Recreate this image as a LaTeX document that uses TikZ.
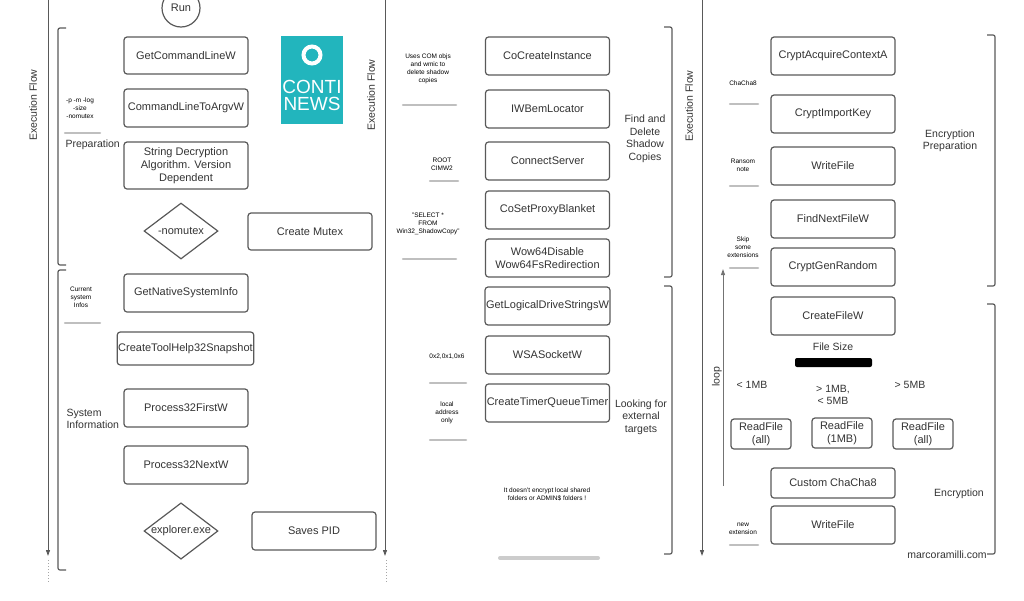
\documentclass[tikz,border=0pt]{standalone}
\usepackage{fontspec}
\setmainfont{Liberation Sans}
\usetikzlibrary{shapes.geometric,arrows.meta}
\begin{document}
\begin{tikzpicture}[x=1pt,y=-1pt,
  box/.style={draw=black!65,line width=1.2pt,rounded corners=3pt,align=center,font=\fontsize{11}{13}\selectfont,text=black!80,inner sep=1pt},
  dia/.style={diamond,draw=black!65,line width=1.2pt,align=center,font=\fontsize{11}{13}\selectfont,text=black!80,inner sep=0pt,minimum width=74pt,minimum height=56pt,aspect=1.3},
  note/.style={align=center,font=\fontsize{6.5}{8}\selectfont,text=black},
  lab/.style={align=center,font=\fontsize{10.5}{12.5}\selectfont,text=black!80},
  sh/.style={draw=black!25,line width=2.5pt,line cap=round},
  flow/.style={draw=black!65,line width=1pt,-{Triangle[length=6pt,width=4pt]}},
  brk/.style={draw=black!65,line width=1.2pt,rounded corners=2pt}]
\useasboundingbox (0,0) rectangle (1024,600);
% ---------- column 1 ----------
\coordinate (f1a) at (48,0); \coordinate (f1b) at (48,556);
\draw[flow] (f1a) -- (f1b);
\draw[black!35,dotted,line width=1pt] (48,560) -- (48,582);
\node[lab,rotate=90] (ef1) at (33,105) {Execution Flow};
\node[circle,draw=black!65,line width=1.2pt,minimum size=38pt,inner sep=0pt,font=\fontsize{11}{13}\selectfont,text=black!80] (run) at (181,8) {Run};
\draw[brk] (66,28) -- (58,28) -- (58,265) -- (66,265);
\draw[brk] (66,270) -- (58,270) -- (58,570) -- (66,570);
\node[box,minimum width=124pt,minimum height=37pt] (gcl) at (186,55.5) {GetCommandLineW};
\node[box,minimum width=124pt,minimum height=38pt] (cla) at (186,108) {CommandLineToArgvW};
\node[box,minimum width=124pt,minimum height=47pt] (sda) at (186,165.5) {String Decryption\\Algorithm. Version\\Dependent};
\node[dia] (nom) at (181,231) {-nomutex};
\node[box,minimum width=124pt,minimum height=37pt] (cmu) at (310,231.5) {Create Mutex};
\node[box,minimum width=124pt,minimum height=38pt] (gns) at (186,293) {GetNativeSystemInfo};
\node[box,minimum width=133pt,minimum height=33pt] (cth) at (185.5,348.5) {CreateToolHelp32Snapshot};
\node[box,minimum width=124pt,minimum height=38pt] (p1) at (186,408) {Process32FirstW};
\node[box,minimum width=124pt,minimum height=38pt] (p2) at (186,465) {Process32NextW};
\node[dia] (exp) at (181,531) {explorer.exe};
\node[box,minimum width=124pt,minimum height=38pt] (pid) at (314,531) {Saves PID};
\fill[fill={rgb,255:red,34;green,181;blue,189}] (281,36) rectangle (343,124);
\node[circle,draw=white,line width=4pt,minimum size=17pt,inner sep=0pt] (logo) at (312,55) {};
\node[font=\fontsize{19}{19}\selectfont,text=white,align=center] (conti) at (312,95) {CONTI\\[-2pt]NEWS};
\node[note] (n1) at (80,108) {-p -m -log\\-size\\-nomutex};
\draw[sh] (65,133) -- (100,133);
\node[lab,anchor=west] (prep) at (62,145) {Preparation};
\node[note] (n2) at (81,297) {Current\\system\\Infos};
\draw[sh] (65,323) -- (100,323);
\node[lab,anchor=west,align=left] (sysi) at (63,419) {System\\Information};
% ---------- column 2 ----------
\coordinate (f2a) at (385,0); \coordinate (f2b) at (385,556);
\draw[flow] (f2a) -- (f2b);
\draw[black!35,dotted,line width=1pt] (386,560) -- (386,582);
\node[lab,rotate=90] (ef2) at (371,95) {Execution Flow};
\node[box,minimum width=124pt,minimum height=38pt] (cci) at (547.5,56) {CoCreateInstance};
\node[box,minimum width=124pt,minimum height=38pt] (iwb) at (547.5,109) {IWBemLocator};
\node[box,minimum width=124pt,minimum height=38pt] (cs) at (547.5,161) {ConnectServer};
\node[box,minimum width=124pt,minimum height=38pt] (csp) at (547.5,210) {CoSetProxyBlanket};
\node[box,minimum width=124pt,minimum height=38pt] (wow) at (547.5,258) {Wow64Disable\\Wow64FsRedirection};
\node[box,minimum width=124pt,minimum height=38pt] (gld) at (547.5,306) {GetLogicalDriveStringsW};
\node[box,minimum width=124pt,minimum height=38pt] (wsa) at (547.5,355) {WSASocketW};
\node[box,minimum width=124pt,minimum height=38pt] (ctq) at (547.5,403) {CreateTimerQueueTimer};
\node[note] (n3) at (428,69) {Uses COM objs\\and wmic to\\delete shadow\\copies};
\draw[sh] (403,105) -- (456,105);
\node[note] (n4) at (442,164) {ROOT\\CIMW2};
\draw[sh] (430,181) -- (458,181);
\node[note] (n5) at (428,224) {"SELECT *\\FROM\\Win32\_ShadowCopy"};
\draw[sh] (403,259) -- (456,259);
\node[note] (n6) at (447,357) {0x2,0x1,0x6};
\draw[sh] (430,383) -- (466,383);
\node[note] (n7) at (447,413) {local\\address\\only};
\draw[sh] (430,440) -- (466,440);
\node[note] (n8) at (547,494) {It doesn't encrypt local shared\\folders or ADMIN\$ folders !};
\draw[sh,draw=black!20,line width=4pt] (500,558) -- (598,558);
\draw[brk] (664,27) -- (672,27) -- (672,277) -- (664,277);
\draw[brk] (664,286) -- (672,286) -- (672,554) -- (664,554);
\node[lab] (fds) at (645,139) {Find and\\Delete\\Shadow\\Copies};
\node[lab] (lft) at (641,417) {Looking for\\external\\targets};
\node[lab,rotate=90] (ef3) at (689,106) {Execution Flow};
% ---------- column 3 ----------
\coordinate (f3a) at (702,0); \coordinate (f3b) at (702,556);
\draw[flow] (f3a) -- (f3b);
\node[box,minimum width=124pt,minimum height=38pt] (cac) at (833,56) {CryptAcquireContextA};
\node[box,minimum width=124pt,minimum height=38pt] (cik) at (833,114) {CryptImportKey};
\node[box,minimum width=124pt,minimum height=38pt] (wf1) at (833,166) {WriteFile};
\node[box,minimum width=124pt,minimum height=38pt] (fnf) at (833,219) {FindNextFileW};
\node[box,minimum width=124pt,minimum height=38pt] (cgr) at (833,267) {CryptGenRandom};
\node[box,minimum width=124pt,minimum height=38pt] (cfw) at (833,316) {CreateFileW};
\node[lab] (fs) at (833,347) {File Size};
\fill[black,rounded corners=2pt] (795,358) rectangle (872,367);
\node[lab] (l1) at (752,385) {< 1MB};
\node[lab] (l2) at (833,395) {> 1MB,\\< 5MB};
\node[lab] (l3) at (910,385) {> 5MB};
\node[box,minimum width=60pt,minimum height=30pt] (rf1) at (761,434) {ReadFile\\(all)};
\node[box,minimum width=60pt,minimum height=30pt] (rf2) at (842,433) {ReadFile\\(1MB)};
\node[box,minimum width=60pt,minimum height=30pt] (rf3) at (923,434) {ReadFile\\(all)};
\node[box,minimum width=124pt,minimum height=30pt] (cc8) at (833,483) {Custom ChaCha8};
\node[box,minimum width=124pt,minimum height=38pt] (wf2) at (833,525) {WriteFile};
\coordinate (la) at (723,486); \coordinate (lb) at (723,269);
\draw[flow,draw=black!55] (la) -- (lb);
\node[lab,rotate=90] (loop) at (717,377) {loop};
\node[note] (n9) at (743,83) {ChaCha8};
\draw[sh] (730,104) -- (758,104);
\node[note] (n10) at (743,165) {Ransom\\note};
\draw[sh] (730,186) -- (758,186);
\node[note] (n11) at (743,247) {Skip\\some\\extensions};
\draw[sh] (730,268) -- (758,268);
\node[note] (n12) at (743,529) {new\\extension};
\draw[sh] (730,545) -- (758,545);
\draw[brk] (987,35) -- (995,35) -- (995,286) -- (987,286);
\draw[brk] (987,304) -- (995,304) -- (995,554) -- (987,554);
\node[lab] (ep) at (950,141) {Encryption\\Preparation};
\node[lab] (enc) at (959,494) {Encryption};
\node[lab] (mr) at (947,555) {marcoramilli.com};
\end{tikzpicture}
\end{document}
